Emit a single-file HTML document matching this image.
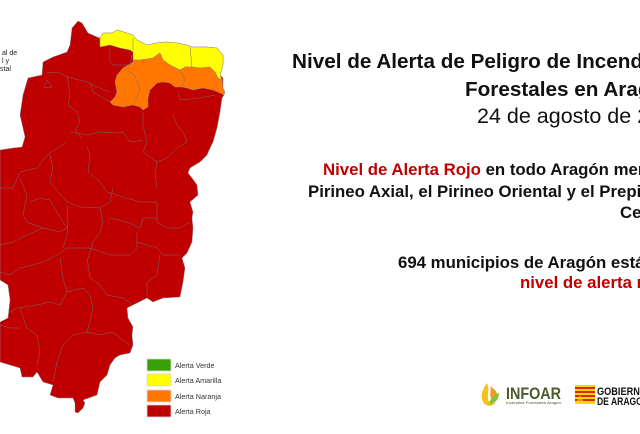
<!DOCTYPE html>
<html><head><meta charset="utf-8"><style>
html,body{margin:0;padding:0;background:#fff;width:640px;height:434px;overflow:hidden}
svg{display:block}
</style></head><body>
<svg width="640" height="434" viewBox="0 0 640 434" xmlns="http://www.w3.org/2000/svg">
<rect width="640" height="434" fill="#fff"/>
<!-- map -->
<polygon fill="#c00000" stroke="#8a8a8a" stroke-width="0.5" points="78,21 82,23 88,33 97,37 100,38 103,33 112,33 117,30 127,33 133,35 137,40 147,45 157,43 167,42 177,43 187,45 192,47 207,47 217,48 223,55 223,65 220,75 223,78 223,88 224,95 222,98 220,112 217,128 213,142 210,148 207,155 200,162 190,168 188,173 192,178 197,185 198,195 190,202 193,212 192,218 193,228 192,242 187,253 182,258 185,268 183,282 180,297 163,298 153,302 147,298 133,305 127,308 128,318 133,327 132,335 133,345 130,353 120,355 115,358 110,365 107,375 100,382 97,395 83,400 85,403 83,408 78,413 75,412 75,403 73,398 58,398 50,395 53,385 43,382 37,372 33,377 22,377 20,368 0,362 0,322 8,318 10,300 8,285 0,280 0,150 13,148 22,147 25,137 23,128 20,115 23,95 28,78 42,75 43,62 53,57 67,52 70,45 72,28"/>
<polygon fill="#ffff00" stroke="#8a8a8a" stroke-width="0.5" points="100,38 103,33 112,33 117,30 127,33 133,35 137,40 147,45 157,43 167,42 177,43 187,45 192,47 207,47 217,48 223,55 223,65 220,75 222,80 218,78 215,72 210,67 200,68 192,67 185,67 180,70 170,65 163,60 160,53 157,55 153,58 140,60 133,60 133,52 130,50 120,48 110,45 100,47"/>
<polygon fill="#ff7700" stroke="#8a8a8a" stroke-width="0.5" points="133,60 140,60 153,58 157,55 160,53 163,60 170,65 180,70 185,67 192,67 200,68 210,67 215,72 218,78 222,80 223,88 225,92 224,95 220,93 213,90 203,88 193,90 187,88 182,87 175,87 170,83 163,82 157,83 150,90 148,98 148,107 143,110 140,107 133,105 123,107 113,105 110,102 115,97 117,92 115,82 117,75 123,68 133,62"/>
<g fill="none" stroke="#707070" stroke-width="0.5">
<polyline points="133,38 133,50"/>
<polyline points="190,47 192,67"/>
<polyline points="125,68 135,76 140,90 135,100"/>
<polyline points="180,70 185,80 182,87"/>
<polyline points="47,73 58,72 67,77 87,82 97,87 110,92"/>
<polyline points="110,47 110,62 113,65 130,65 132,55"/>
<polyline points="67,75 70,95 68,105 77,112 80,122 75,130 82,138"/>
<polyline points="90,82 93,92 110,102"/>
<polyline points="70,132 87,135 100,132 113,133 123,132 130,142 143,140"/>
<polyline points="143,112 143,125 147,142 143,152 157,162 155,175 157,188"/>
<polyline points="173,115 177,125 183,132 187,142 177,148 167,158 157,162"/>
<polyline points="178,92 180,100 200,98 215,95"/>
<polyline points="67,142 47,155 37,168 20,172 13,188 0,188"/>
<polyline points="87,147 90,155 88,172 100,182 107,192 123,197 140,202 157,202"/>
<polyline points="50,155 53,168 50,182 55,188 67,202 80,207 100,208 110,202 113,188"/>
<polyline points="20,178 27,195 23,215 27,222 43,228 60,232 67,228"/>
<polyline points="30,202 40,198 50,200 57,212 63,222 67,228"/>
<polyline points="67,205 68,222 67,235 63,248"/>
<polyline points="100,208 103,222 100,232 93,242 88,258"/>
<polyline points="110,218 127,222 140,228 143,218 157,218"/>
<polyline points="157,202 157,222 167,228 180,228 190,222"/>
<polyline points="137,232 137,248 130,255 110,255 90,248 67,248"/>
<polyline points="137,242 157,248 163,255 180,255"/>
<polyline points="160,255 157,275 147,282 147,295"/>
<polyline points="0,245 13,242 27,235 43,228"/>
<polyline points="0,272 10,275 20,268 33,265 43,262 57,255 67,248"/>
<polyline points="60,258 63,278 67,292 60,305"/>
<polyline points="87,258 90,278 100,285 107,295 123,298 133,305"/>
<polyline points="67,292 83,288 90,295 93,308 90,322 87,332"/>
<polyline points="10,312 17,308 37,305 50,302 60,305"/>
<polyline points="20,308 27,328 37,335 40,352 37,365"/>
<polyline points="87,332 73,335 63,345 57,362 53,382"/>
<polyline points="87,332 100,335 113,332 120,338 130,345"/>
<polyline points="0,325 10,328 20,328"/>
<polyline points="47,80 52,87 44,88 47,80"/>
</g>
<!-- partial legend text top-left -->
<g font-family="Liberation Sans, Arial, sans-serif" font-size="7" fill="#222">
<text x="2" y="55">al de</text>
<text x="2" y="63">l y</text>
<text x="0" y="71">stal</text>
</g>
<!-- legend -->
<g stroke="#d8d8d8" stroke-width="0.8">
<rect x="147" y="359" width="24" height="12" fill="#3aa00a"/>
<rect x="147" y="374" width="24" height="12" fill="#ffff00"/>
<rect x="147" y="390" width="24" height="12" fill="#ff7700"/>
<rect x="147" y="405" width="24" height="12" fill="#c00000"/>
</g>
<g font-family="Liberation Sans, Arial, sans-serif" font-size="7.2" fill="#333">
<text x="175" y="368">Alerta Verde</text>
<text x="175" y="383">Alerta Amarilla</text>
<text x="175" y="399">Alerta Naranja</text>
<text x="175" y="414">Alerta Roja</text>
</g>
<!-- title -->
<g font-family="Liberation Sans, Arial, sans-serif" fill="#111">
<text x="292" y="68" font-size="20.7" font-weight="bold">Nivel de Alerta de Peligro de Incendios</text>
<text x="465" y="96" font-size="20.7" font-weight="bold">Forestales en Aragón</text>
<text x="477" y="123" font-size="21.5">24 de agosto de 2022</text>
</g>
<g font-family="Liberation Sans, Arial, sans-serif" font-size="16.8" font-weight="bold" fill="#111">
<text x="323" y="175"><tspan fill="#c00000">Nivel de Alerta Rojo</tspan> en todo Aragón menos el</text>
<text x="308" y="197">Pirineo Axial, el Pirineo Oriental y el Prepirineo</text>
<text x="620" y="218">Central.</text>
<text x="398" y="268">694 municipios de Aragón están en</text>
<text x="520" y="288" fill="#c00000">nivel de alerta rojo.</text>
</g>
<!-- INFOAR logo -->
<path d="M487,383 C482,390 480,396 483,402 C486,407 493,407 496,402 C494,404 489,404 488,399 C487,395 490,390 487,383 Z" fill="#f4c21a"/>
<path d="M490,386 C492,390 489,394 491,398 C493,401 497,399 497,395 C497,391 494,389 490,386 Z" fill="#f39a1e"/>
<path d="M489,404 C490,398 495,394 499,393 C499,399 495,404 489,404 Z" fill="#8bbf3a"/>
<text x="506" y="399" font-family="Liberation Sans, Arial, sans-serif" font-size="17" font-weight="bold" fill="#4d5a2a" textLength="55" lengthAdjust="spacingAndGlyphs">INFOAR</text>
<text x="506" y="404" font-family="Liberation Sans, Arial, sans-serif" font-size="3.6" fill="#4d5a2a" textLength="55" lengthAdjust="spacingAndGlyphs">Incendios Forestales Aragón</text>
<!-- Gobierno de Aragon logo -->
<rect x="575" y="385" width="20" height="19" fill="#ffd800"/>
<g fill="#d9261c">
<rect x="575" y="387" width="20" height="2"/>
<rect x="575" y="391" width="20" height="2"/>
<rect x="575" y="395" width="20" height="2"/>
<rect x="575" y="399" width="20" height="2"/>
</g>
<polygon points="575,404 580,395 585,404" fill="#ffd800" opacity="0.6"/>
<g font-family="Liberation Sans, Arial, sans-serif" font-size="11" font-weight="bold" fill="#111">
<text x="597" y="395" textLength="50" lengthAdjust="spacingAndGlyphs">GOBIERNO</text>
<text x="597" y="405" textLength="52" lengthAdjust="spacingAndGlyphs">DE ARAGON</text>
</g>
</svg>
</body></html>
